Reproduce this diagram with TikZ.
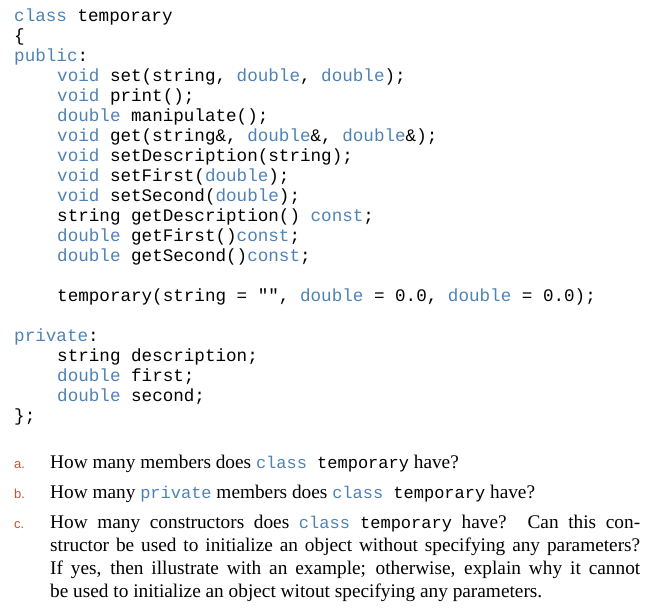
\documentclass[tikz,border=0pt]{standalone}
\usepackage{fontspec}
\setmainfont{Liberation Serif}
\setmonofont{Liberation Mono}
\setsansfont{Liberation Sans}
\definecolor{kwc}{HTML}{4F82B4}
\definecolor{labc}{HTML}{C0562C}
\newcommand{\kw}[1]{\textcolor{kwc}{#1}}
\begin{document}
\begin{tikzpicture}[x=1pt,y=1pt,
  code/.style={anchor=base west,inner sep=0pt,font=\ttfamily\fontsize{17.6pt}{20pt}\selectfont},
  lab/.style={anchor=base west,inner sep=0pt,text=labc,font=\sffamily\fontsize{13pt}{15pt}\selectfont},
  qtext/.style={anchor=base west,inner sep=0pt,text width=590pt,align=justify,font=\fontsize{19.3pt}{23pt}\selectfont}]
\useasboundingbox (0,0) rectangle (648,-611);
\def\ia{14}\def\ib{57}
\node[code] (l1) at (\ia,-21) {\kw{class} temporary};
\node[code] (l2) at (\ia,-41) {\{};
\node[code] (l3) at (\ia,-61) {\kw{public}:};
\node[code] (l4) at (\ib,-81) {\kw{void} set(string, \kw{double}, \kw{double});};
\node[code] (l5) at (\ib,-101) {\kw{void} print();};
\node[code] (l6) at (\ib,-121) {\kw{double} manipulate();};
\node[code] (l7) at (\ib,-141) {\kw{void} get(string\&, \kw{double}\&, \kw{double}\&);};
\node[code] (l8) at (\ib,-161) {\kw{void} setDescription(string);};
\node[code] (l9) at (\ib,-181) {\kw{void} setFirst(\kw{double});};
\node[code] (l10) at (\ib,-201) {\kw{void} setSecond(\kw{double});};
\node[code] (l11) at (\ib,-221) {string getDescription() \kw{const};};
\node[code] (l12) at (\ib,-241) {\kw{double} getFirst()\kw{const};};
\node[code] (l13) at (\ib,-261) {\kw{double} getSecond()\kw{const};};
\node[code] (l14) at (\ib,-301) {temporary(string = "", \kw{double} = 0.0, \kw{double} = 0.0);};
\node[code] (l15) at (\ia,-341) {\kw{private}:};
\node[code] (l16) at (\ib,-361) {string description;};
\node[code] (l17) at (\ib,-381) {\kw{double} first;};
\node[code] (l18) at (\ib,-401) {\kw{double} second;};
\node[code] (l19) at (\ia,-421) {\};};
\node[lab] (la) at (14,-468) {a.};
\node[lab] (lb) at (14,-498) {b.};
\node[lab] (lc) at (14,-528) {c.};
\newcommand{\qt}[1]{{\ttfamily\fontsize{17pt}{20pt}\selectfont #1}}
\node[qtext] (qa) at (50,-468) {How many members does \qt{\kw{class} temporary} have?};
\node[qtext] (qb) at (50,-498) {How many \qt{\kw{private}} members does \qt{\kw{class} temporary} have?};
\node[qtext] (qc) at (50,-528) {How many constructors does \qt{\kw{class} temporary} have? Can this con-\linebreak structor be used to initialize an object without specifying any parameters?\linebreak If yes, then illustrate with an example; otherwise, explain why it cannot\linebreak be used to initialize an object witout specifying any parameters.};
\end{tikzpicture}
\end{document}
